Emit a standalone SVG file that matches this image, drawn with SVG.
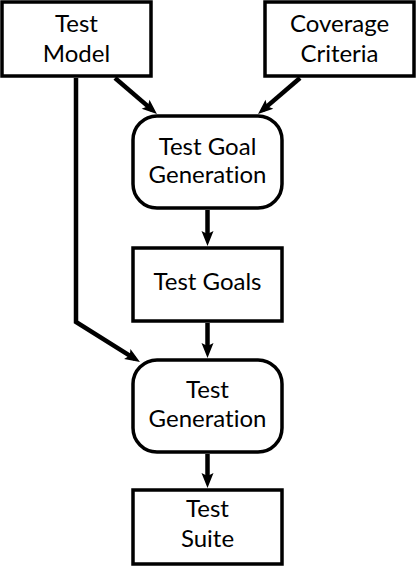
<svg xmlns="http://www.w3.org/2000/svg" width="416" height="566" viewBox="0 0 416 566">
<style>
.box{fill:#fff;stroke:#000;stroke-width:3.5}
.lbl{font-family:Lato,"Open Sans","DejaVu Sans",sans-serif;font-size:24px;font-weight:400;font-variant-ligatures:none;fill:#000;text-anchor:middle}
.edge{fill:none;stroke:#000;stroke-width:4.5;stroke-linejoin:miter}
</style>
<defs>
<marker id="ah" markerUnits="userSpaceOnUse" markerWidth="20" markerHeight="16" viewBox="-1 -8 18 16" refX="9" refY="0" orient="auto">
<path d="M0,-6 L15,0 L0,6 L3,0 Z" fill="#000"/>
</marker>
</defs>
<rect width="416" height="566" fill="#fff"/>
<g id="connectors">
<path class="edge" d="M115,78 L152.4,110.1" marker-end="url(#ah)"/>
<path class="edge" d="M300,78 L262.6,110.1" marker-end="url(#ah)"/>
<path class="edge" d="M76,78 V322 L134.9,358.8" marker-end="url(#ah)"/>
<path class="edge" d="M207.5,210 V240" marker-end="url(#ah)"/>
<path class="edge" d="M207.5,323 V352" marker-end="url(#ah)"/>
<path class="edge" d="M207.5,454 V482" marker-end="url(#ah)"/>
</g>
<g id="test-model">
<rect class="box" x="2" y="2" width="149" height="74"/>
<text class="lbl" x="76.5" y="32.3">Test</text>
<text class="lbl" x="76.5" y="61.7">Model</text>
</g>
<g id="coverage-criteria">
<rect class="box" x="265" y="2" width="149" height="74"/>
<text class="lbl" x="339.5" y="32.3">Coverage</text>
<text class="lbl" x="339.5" y="61.7">Criteria</text>
</g>
<g id="test-goal-generation">
<rect class="box" x="133" y="116" width="149" height="92" rx="24" ry="24"/>
<text class="lbl" x="207.5" y="155">Test Goal</text>
<text class="lbl" x="207.5" y="183.3">Generation</text>
</g>
<g id="test-goals">
<rect class="box" x="133" y="248" width="149" height="73"/>
<text class="lbl" x="207.5" y="290">Test Goals</text>
</g>
<g id="test-generation">
<rect class="box" x="133" y="360" width="149" height="92" rx="24" ry="24"/>
<text class="lbl" x="207.5" y="398.3">Test</text>
<text class="lbl" x="207.5" y="427.3">Generation</text>
</g>
<g id="test-suite">
<rect class="box" x="133" y="490" width="149" height="74"/>
<text class="lbl" x="207.5" y="516.7">Test</text>
<text class="lbl" x="207.5" y="546.7">Suite</text>
</g>
</svg>
